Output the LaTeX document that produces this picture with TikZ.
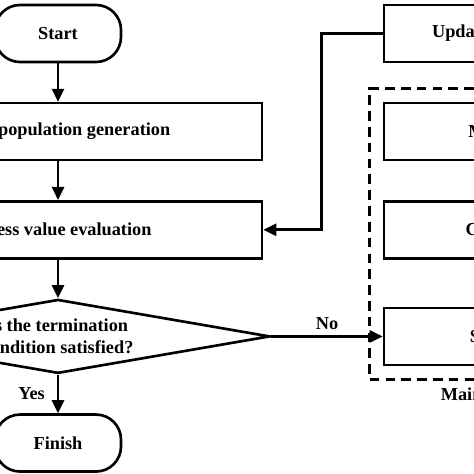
\documentclass[tikz,border=0pt]{standalone}
\usepackage{fontspec}
\setmainfont{Liberation Serif}
\usetikzlibrary{shapes.geometric, arrows.meta, positioning, fit}

\begin{document}
\begin{tikzpicture}[
  node distance = .77cm,
  line width=1.5pt,
  font=\fontsize{10.4}{12.5}\selectfont\bfseries,
  >={Triangle[length=.26cm,width=.24cm]},
  term/.style={draw, rounded corners=.5cm, minimum width=2.52cm, minimum height=1.14cm},
  stepbox/.style={draw, minimum width=8.16cm, minimum height=1.14cm},
  opbox/.style={draw, minimum width=4.84cm, minimum height=1.14cm}]

  \clip (0,0) rectangle (9.48,-9.48);

  % main loop
  \node[term] (start) at (1.16,-.67) {Start};
  \node[stepbox] (init) [below=of start] {Initial population generation};
  \node[stepbox] (fitness) [below=of init] {Fitness value evaluation};
  \node[draw, diamond, minimum width=8.48cm, minimum height=1.48cm, inner sep=0pt,
    label={[align=center]center:Is the termination\\condition satisfied?}] (cond) [below=of fitness] {};
  \node[term] (finish) [below=of cond] {Finish};

  % GA operators
  \node[opbox] (update) at (10.1,-.67) {Update population};
  \node[opbox] (mut) [below=of update] {Mutation};
  \node[opbox] (cross) [below=of mut] {Crossover};
  \node[opbox] (sel) at (mut |- cond) {Selection};
  \node[draw, dash pattern=on 5.5pt off 3.5pt, inner sep=.26cm, fit=(mut) (sel),
    label={below:Main operations}] (ops) {};

  \draw[->] (start) -- (init);
  \draw[->] (init) -- (fitness);
  \draw[->] (fitness) -- (cond);
  \draw[->] (cond) -- node[left=.12cm]{Yes} (finish);
  \draw[->] (cond) -- node[above]{No} (sel);
  \draw[->] (update.west) -- ++(-1.22,0) |- (fitness.east);
\end{tikzpicture}
\end{document}
